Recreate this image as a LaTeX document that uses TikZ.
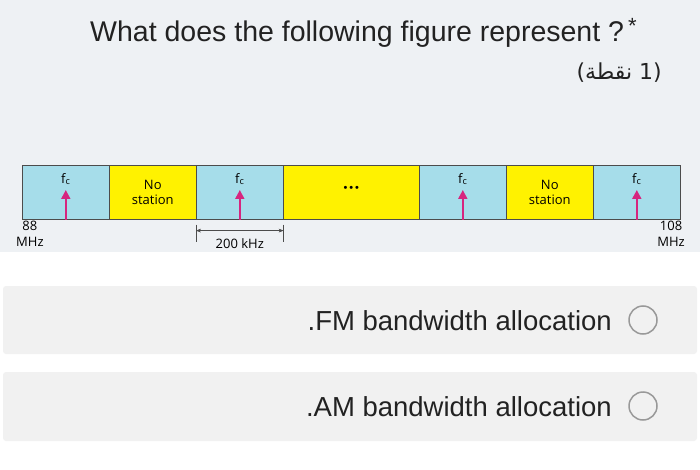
\documentclass[tikz,border=0pt]{standalone}
\usepackage{fontspec}
\setmainfont{Liberation Sans}
\newfontfamily\diafont{Open Sans}
\newfontfamily\arabicfont[Script=Arabic]{DejaVu Sans}
\TeXXeTstate=1
\usetikzlibrary{arrows.meta}
\definecolor{panel}{HTML}{EEF1F4}
\definecolor{cyanb}{HTML}{A6DDEA}
\definecolor{yelb}{HTML}{FFF200}
\definecolor{mag}{HTML}{D6257F}
\definecolor{optbg}{HTML}{F1F1F1}
\definecolor{txt}{HTML}{222222}
\tikzset{
 seg/.style={draw=black!70,line width=0.6pt,minimum height=54pt,inner sep=0pt,anchor=north west},
 lab/.style={font=\diafont\fontsize{13}{15}\selectfont,align=center,inner sep=0pt},
 carrier/.style={draw=mag,line width=2pt,-{Triangle[length=9pt,width=9pt]}},
 opt/.style={fill=optbg,draw=none,rounded corners=3pt},
 radio/.style={circle,draw=gray!80,line width=1.5pt,minimum size=28pt,inner sep=0pt},
 opttxt/.style={font=\fontsize{27.5}{30}\selectfont,text=txt,anchor=east,inner sep=0pt}
}
\begin{document}
\begin{tikzpicture}[x=1pt,y=-1pt]
\useasboundingbox (0,0) rectangle (700,470);
\fill[white] (0,0) rectangle (700,470);
\fill[panel] (0,0) rectangle (700,252);
\node[font=\fontsize{28.5}{30}\selectfont,text=txt,anchor=west,inner sep=0pt] (q) at (90,34) {What does the following figure represent ?};
\node[font=\fontsize{22}{22}\selectfont,text=txt,anchor=north west,inner sep=0pt] (star) at ([yshift=2pt]q.north east) {\,*};
\node[font=\fontsize{22}{24}\selectfont,text=txt,anchor=east,inner sep=0pt] (pts) at (662,73) {\arabicfont\beginR(1 نقطة)\endR};
% bar
\node[seg,fill=cyanb,minimum width=87pt] (s1) at (22,165) {};
\node[seg,fill=yelb,minimum width=87pt] (s2) at (109,165) {};
\node[seg,fill=cyanb,minimum width=87pt] (s3) at (196,165) {};
\node[seg,fill=yelb,minimum width=136pt] (s4) at (283,165) {};
\node[seg,fill=cyanb,minimum width=87pt] (s5) at (419,165) {};
\node[seg,fill=yelb,minimum width=87pt] (s6) at (506,165) {};
\node[seg,fill=cyanb,minimum width=87pt] (s7) at (593,165) {};
\foreach \s in {s1,s3,s5,s7}{
 \coordinate (\s b) at ([yshift=0pt]\s.south);
 \coordinate (\s t) at ([yshift=-25pt]\s.north);
 \draw[carrier] (\s b) -- (\s t);
 \node[lab] at ([yshift=-14pt]\s.north) {f\textsubscript{c}};
}
\node[lab] (n1) at (s2) {No\\station};
\node[lab] (n2) at (s6) {No\\station};
\node[lab,font=\fontsize{11}{11}\selectfont] (dots) at ([yshift=3pt]s4.center) {\textbullet\,\textbullet\,\textbullet};
% dimension
\coordinate (d1t) at ([yshift=-5pt]s3.south west);
\coordinate (d1b) at ([yshift=-22pt]s3.south west);
\coordinate (d2t) at ([yshift=-5pt]s3.south east);
\coordinate (d2b) at ([yshift=-22pt]s3.south east);
\draw[black!70] (d1t) -- (d1b) (d2t) -- (d2b);
\coordinate (a1) at ([yshift=-11pt]s3.south west);
\coordinate (a2) at ([yshift=-11pt]s3.south east);
\draw[black!70,{Stealth[length=5pt]}-{Stealth[length=5pt]}] (a1) -- (a2);
\node[lab] (khz) at ([yshift=-24pt]s3.south) {200 kHz};
\begin{scope}
\clip (0,0) rectangle (700,248);
\node[lab,anchor=north west] (l88) at (16,221) {88\\[1pt]MHz};
\node[lab,anchor=north east] (l108) at (685,221) {108\\[1pt]MHz};
\end{scope}
% options
\fill[opt] (3,286) rectangle (697,354);
\fill[opt] (3,372) rectangle (697,441);
\node[opttxt] (o1) at (612,321) {.FM bandwidth allocation};
\node[radio] (r1) at (643,320) {};
\node[opttxt] (o2) at (612,407) {.AM bandwidth allocation};
\node[radio] (r2) at (643,406) {};
\end{tikzpicture}
\end{document}
